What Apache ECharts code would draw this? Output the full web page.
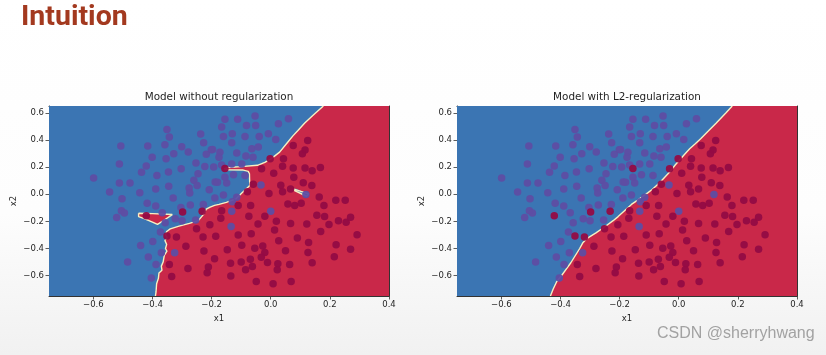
<!DOCTYPE html>
<html><head><meta charset="utf-8">
<script src="https://cdn.jsdelivr.net/npm/echarts@6/dist/echarts.min.js"></script>
<style>html,body{margin:0;padding:0;background:#fff}#c{width:826px;height:355px}</style>
</head><body><div id="c"></div>
<script>
const xTicks = [-0.6, -0.4, -0.2, 0.0, 0.2, 0.4];
const yTicks = [-0.6, -0.4, -0.2, 0.0, 0.2, 0.4, 0.6];
const xRange = [-0.75, 0.4];
const yRange = [-0.75, 0.65];
const plotTitles = ['Model without regularization', 'Model with L2-regularization'];

// class 1 (purple) points
const blueClass = [
[-0.351,0.476],[-0.343,0.421],[-0.237,0.444],[-0.227,0.380],[-0.507,0.355],[-0.416,0.355],[-0.358,0.365],[-0.301,0.350],
[-0.279,0.311],[-0.328,0.299],[-0.401,0.272],[-0.354,0.262],[-0.218,0.294],[-0.201,0.328],[-0.512,0.222],[-0.421,0.208],
[-0.437,0.161],[-0.385,0.137],[-0.346,0.164],[-0.303,0.188],[-0.253,0.230],[-0.223,0.205],[-0.193,0.200],[-0.246,0.151],
[-0.260,0.102],[-0.249,0.065],[-0.276,0.046],[-0.188,0.090],[-0.599,0.119],[-0.512,0.082],[-0.476,0.082],[-0.545,0.016],
[-0.443,0.011],[-0.389,0.038],[-0.345,0.058],[-0.330,-0.028],[-0.274,0.009],[-0.208,0.033],[-0.503,-0.033],[-0.418,-0.067],
[-0.389,-0.087],[-0.304,-0.097],[-0.272,-0.080],[-0.228,-0.075],[-0.189,-0.028],[-0.505,-0.121],[-0.495,-0.139],[-0.521,-0.171],
[-0.367,-0.136],[-0.357,-0.210],[-0.323,-0.180],[-0.300,-0.195],[-0.254,-0.190],[-0.373,-0.279],[-0.399,-0.348],[-0.440,-0.377],
[-0.370,-0.432],[-0.414,-0.463],[-0.325,-0.431],[-0.484,-0.500],[-0.388,-0.517],[-0.404,-0.618],
[-0.155,0.552],[-0.112,0.552],[-0.053,0.576],[0.026,0.519],[0.060,0.556],[-0.166,0.495],[-0.082,0.507],[-0.051,0.507],
[-0.160,0.426],[-0.130,0.446],[-0.087,0.426],[-0.039,0.426],[-0.008,0.446],[0.017,0.404],[-0.132,0.379],[-0.197,0.330],
[-0.172,0.310],[-0.175,0.273],[-0.115,0.303],[-0.084,0.281],[-0.060,0.272],[-0.064,0.335],[-0.042,0.347],[-0.166,0.216],
[-0.132,0.222],[-0.098,0.222],[-0.087,0.138],[-0.180,0.088],[-0.149,0.083],[-0.155,0.125],[-0.126,0.144],[-0.160,-0.005],
[-0.130,-0.055],[-0.115,-0.023],
[-0.132,-0.126],[-0.033,0.067],[0.000,-0.126],[0.119,-0.003],[-0.134,-0.237]
];

// class 0 (dark red) points
const redClass = [
[-0.298,-0.131],[-0.421,-0.158],[-0.232,-0.126],[-0.351,-0.308],[-0.319,-0.316],[-0.251,-0.254],[-0.229,-0.316],[-0.206,-0.225],
[-0.186,-0.310],[-0.287,-0.384],[-0.226,-0.419],[-0.190,-0.475],[-0.343,-0.517],[-0.280,-0.547],[-0.211,-0.537],[-0.215,-0.579],
[-0.335,-0.606],
[0.125,0.396],[0.076,0.359],[0.116,0.325],[0.107,0.298],[-0.002,0.262],[0.043,0.261],[-0.155,0.189],[-0.031,0.187],
[0.040,0.206],[0.076,0.194],[0.116,0.194],[0.140,0.172],[0.168,0.196],[0.010,0.155],[-0.059,0.074],[0.078,0.125],
[0.110,0.085],[0.139,0.064],[0.034,0.066],[0.067,0.039],[-0.079,0.019],[-0.006,0.005],[0.040,0.019],[0.164,-0.020],
[0.220,-0.045],[0.252,-0.045],
[-0.110,-0.084],[-0.068,-0.084],[0.058,-0.072],[0.081,-0.084],[0.103,-0.067],[0.180,-0.084],[-0.166,-0.121],[-0.169,-0.178],
[-0.074,-0.163],[-0.020,-0.163],[0.019,-0.200],[-0.043,-0.219],[0.067,-0.215],[0.122,-0.219],[0.156,-0.155],[0.182,-0.165],
[0.229,-0.195],[0.255,-0.207],[0.270,-0.170],[0.197,-0.224],[0.169,-0.274],[0.292,-0.298],[0.013,-0.264],[-0.110,-0.300],
[-0.066,-0.292],[0.090,-0.323],[0.027,-0.343],[0.128,-0.356],[0.221,-0.372],[0.270,-0.405],[-0.147,-0.410],[-0.098,-0.376],
[-0.054,-0.398],[-0.027,-0.382],[-0.020,-0.429],[0.050,-0.416],[0.126,-0.429],[0.215,-0.460],[-0.032,-0.465],[-0.011,-0.503],
[-0.136,-0.508],[-0.100,-0.500],[-0.069,-0.480],[-0.062,-0.532],[-0.085,-0.556],[0.024,-0.512],[0.022,-0.556],[0.064,-0.518],
[0.140,-0.505],[-0.135,-0.603],[-0.049,-0.644],[0.008,-0.659],[0.069,-0.644]
];

// decision boundary (no regularization), from top edge to bottom edge
const leftBoundary = [
[0.178,0.65],[0.145,0.585],[0.115,0.525],[0.092,0.47],[0.075,0.43],[0.058,0.385],[0.03,0.31],[0.002,0.262],[-0.02,0.235],
[-0.045,0.213],[-0.10,0.203],[-0.145,0.197],[-0.158,0.187],[-0.145,0.180],[-0.093,0.178],[-0.076,0.168],[-0.072,0.15],
[-0.071,0.064],[-0.085,0.035],[-0.097,0.010],[-0.118,-0.035],[-0.15,-0.06],[-0.175,-0.075],[-0.19,-0.082],[-0.205,-0.095],
[-0.218,-0.11],[-0.228,-0.15],[-0.245,-0.195],[-0.275,-0.215],[-0.31,-0.235],[-0.34,-0.255],[-0.352,-0.275],[-0.356,-0.30],
[-0.350,-0.32],[-0.358,-0.34],[-0.352,-0.37],[-0.356,-0.40],[-0.351,-0.42],[-0.360,-0.45],[-0.364,-0.50],[-0.370,-0.53],
[-0.368,-0.56],[-0.378,-0.58],[-0.380,-0.62],[-0.386,-0.66],[-0.388,-0.72],[-0.390,-0.75]
];
const leftIsland = [
[-0.447,-0.140],[-0.40,-0.143],[-0.333,-0.150],[-0.36,-0.19],[-0.383,-0.222],[-0.40,-0.205],[-0.43,-0.178],[-0.447,-0.165],
[-0.450,-0.152],[-0.447,-0.140]
];
const leftSliver = [
[0.079,0.037],[0.084,0.042],[0.128,0.002],[0.128,-0.012],[0.121,-0.015],[0.079,0.028],[0.079,0.037]
];
// decision boundary (L2 regularization)
const rightBoundary = [
[0.181,0.65],[0.16,0.6],[0.127,0.525],[0.1,0.465],[0.075,0.41],[0.055,0.37],[0.037,0.335],[0.02,0.295],[0.005,0.258],
[-0.012,0.215],[-0.03,0.165],[-0.045,0.13],[-0.06,0.095],[-0.075,0.065],[-0.09,0.035],[-0.105,0.01],[-0.121,-0.015],
[-0.14,-0.045],[-0.16,-0.075],[-0.175,-0.105],[-0.19,-0.135],[-0.205,-0.165],[-0.222,-0.195],[-0.25,-0.24],[-0.28,-0.285],
[-0.31,-0.325],[-0.325,-0.36],[-0.335,-0.40],[-0.345,-0.435],[-0.355,-0.47],[-0.365,-0.505],[-0.378,-0.545],[-0.395,-0.595],
[-0.413,-0.645],[-0.425,-0.7],[-0.434,-0.75]
];

const BLUE = '#3b75b3', RED = '#c92849', EDGE = '#f6f0c2';
const PURPLE = '#5e4da3', DARKRED = '#930b45';
const FONT = '"DejaVu Sans", sans-serif';
const frameRect = [[xRange[0],yRange[0]],[xRange[1],yRange[0]],[xRange[1],yRange[1]],[xRange[0],yRange[1]]];
const redSide = [[xRange[1],yRange[0]],[xRange[1],yRange[1]]];

function fmt(v){ return (v < 0 ? '\u2212' : '') + Math.abs(v).toFixed(1); }

function xAxes(gi){
  return [{
    type:'value', gridIndex:gi, min:xRange[0], max:xRange[1], position:'bottom',
    splitLine:{show:false},
    axisLine:{show:true, onZero:false, lineStyle:{color:'#333', width:1}},
    axisTick:{show:true, customValues:xTicks, length:3.5, lineStyle:{color:'#333', width:0.8}},
    axisLabel:{customValues:xTicks, formatter:fmt, fontSize:8.5, fontFamily:FONT, color:'#262626', margin:4},
    name:'x1', nameLocation:'middle', nameGap:17, nameTextStyle:{fontSize:8.5, fontFamily:FONT, color:'#262626'}
  },{
    type:'value', gridIndex:gi, min:xRange[0], max:xRange[1], position:'top',
    splitLine:{show:false}, axisTick:{show:false}, axisLabel:{show:false},
    axisLine:{show:true, onZero:false, lineStyle:{color:'#333', width:1}}
  }];
}
function yAxes(gi){
  return [{
    type:'value', gridIndex:gi, min:yRange[0], max:yRange[1], position:'left',
    splitLine:{show:false},
    axisLine:{show:true, onZero:false, lineStyle:{color:'#333', width:1}},
    axisTick:{show:true, customValues:yTicks, length:3.5, lineStyle:{color:'#333', width:0.8}},
    axisLabel:{customValues:yTicks, formatter:fmt, fontSize:8.5, fontFamily:FONT, color:'#262626', margin:5},
    name:'x2', nameLocation:'middle', nameGap:31, nameRotate:90, nameTextStyle:{fontSize:8.5, fontFamily:FONT, color:'#262626'}
  },{
    type:'value', gridIndex:gi, min:yRange[0], max:yRange[1], position:'right',
    splitLine:{show:false}, axisTick:{show:false}, axisLabel:{show:false},
    axisLine:{show:true, onZero:false, lineStyle:{color:'#333', width:1}}
  }];
}

function regionSeries(ai, polys){
  return {
    type:'custom', xAxisIndex:ai, yAxisIndex:ai, data:[[xRange[0], yRange[0]]], silent:true, z:1, clip:true,
    renderItem:function(params, api){
      return {type:'group', children: polys.map(function(p){
        return {type:'polygon', shape:{points:p.pts.map(function(q){ return api.coord(q); })}, style:{fill:p.color}};
      })};
    }
  };
}
function edgeSeries(ai, pts){
  return {type:'line', xAxisIndex:ai, yAxisIndex:ai, data:pts, symbol:'none', silent:true, z:2, clip:true,
    lineStyle:{color:EDGE, width:1.4}};
}
function pointSeries(ai, pts, color){
  return {type:'scatter', xAxisIndex:ai, yAxisIndex:ai, data:pts, symbolSize:7.5, silent:true, z:3,
    itemStyle:{color:color, opacity:0.95}};
}

const chart = echarts.init(document.getElementById('c'), null, {renderer:'canvas'});
chart.setOption({
  animation:false,
  backgroundColor:{type:'linear', x:0, y:0, x2:0, y2:1, colorStops:[{offset:0, color:'#ffffff'},{offset:0.6, color:'#fdfdfd'},{offset:1, color:'#f1f1f1'}]},
  grid:[
    {left:49, top:106, width:340, height:190},
    {left:457, top:106, width:340, height:190}
  ],
  xAxis: xAxes(0).concat(xAxes(1)),
  yAxis: yAxes(0).concat(yAxes(1)),
  graphic:[
    {type:'text', x:21, y:18, style:{text:'Intuition', font:'bold 28.5px Roboto, "Open Sans", sans-serif', fill:'#a3391f', textVerticalAlign:'middle'}},
    {type:'text', x:219, y:97, style:{text:plotTitles[0], font:'10.4px ' + FONT, fill:'#1e1e1e', textAlign:'center', textVerticalAlign:'middle'}},
    {type:'text', x:627, y:97, style:{text:plotTitles[1], font:'10.4px ' + FONT, fill:'#1e1e1e', textAlign:'center', textVerticalAlign:'middle'}},
    {type:'text', x:657, y:334, style:{text:'CSDN @sherryhwang', font:'16px "Liberation Sans", Arial, sans-serif', fill:'#a2a2a2', textVerticalAlign:'middle'}}
  ],
  series:[
    regionSeries(0, [
      {pts:frameRect, color:BLUE},
      {pts:leftBoundary.concat(redSide), color:RED},
      {pts:leftIsland, color:RED},
      {pts:leftSliver, color:BLUE}
    ]),
    edgeSeries(0, leftBoundary), edgeSeries(0, leftIsland), edgeSeries(0, leftSliver),
    pointSeries(0, blueClass, PURPLE), pointSeries(0, redClass, DARKRED),
    regionSeries(2, [
      {pts:frameRect, color:BLUE},
      {pts:rightBoundary.concat(redSide), color:RED}
    ]),
    edgeSeries(2, rightBoundary),
    pointSeries(2, blueClass, PURPLE), pointSeries(2, redClass, DARKRED)
  ]
});
</script>
</body></html>
